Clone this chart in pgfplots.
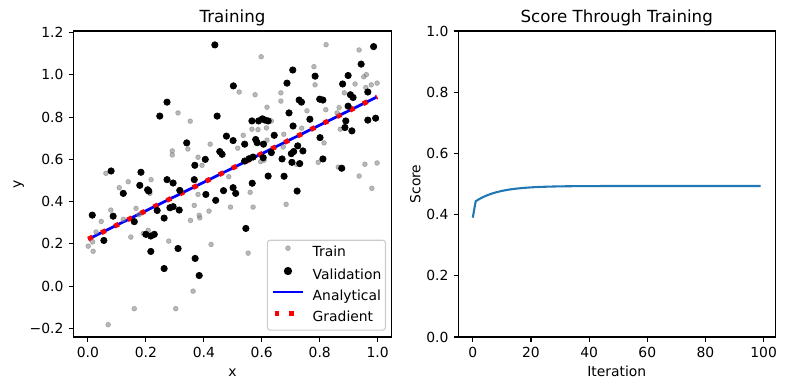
\documentclass[border=0pt]{standalone}
\usepackage{fontspec}
\setmainfont{DejaVu Sans}
\usepackage{pgfplots}
\pgfplotsset{compat=1.18}
\definecolor{trgray}{RGB}{128,128,128}
\definecolor{cC0}{HTML}{1F77B4}
\definecolor{legedge}{RGB}{204,204,204}
\pgfplotsset{mpl/.style={
  scale only axis,
  axis line style={line width=0.8pt, black},
  tick align=outside, major tick length=3.5pt,
  every tick/.style={black, line width=0.8pt},
  xtick pos=bottom, ytick pos=left,
  minor tick num=0, scaled ticks=false,
  tick label style={font=\fontsize{10}{12}\selectfont},
  xticklabel style={inner sep=0pt}, yticklabel style={inner sep=0pt},
  xticklabel shift=3.5pt, yticklabel shift=3.5pt,
  label style={font=\fontsize{10}{12}\selectfont},
  xlabel style={inner sep=0pt, text height=9.5pt, text depth=2.3pt}, ylabel style={inner sep=0pt},
  xlabel shift=4pt, ylabel shift=4pt,
  every axis title shift=0pt,
  title style={font=\fontsize{12}{14}\selectfont, at={(0.5,1)}, anchor=base, yshift=6pt, inner sep=0pt},
}}
\begin{document}
\begin{tikzpicture}
\path[use as bounding box] (-52.9pt,-38.2pt) rectangle (514.4pt,242.6pt);
\begin{axis}[mpl, at={(0pt,0pt)}, anchor=south west,
  width=229pt, height=220.3pt,
  xmin=-0.0499, xmax=1.048, ymin=-0.241, ymax=1.208,
  xtick={0,0.2,0.4,0.6,0.8,1}, xticklabels={0.0,0.2,0.4,0.6,0.8,1.0},
  ytick={-0.2,0,0.2,0.4,0.6,0.8,1.0,1.2},
  yticklabels={−0.2,0.0,0.2,0.4,0.6,0.8,1.0,1.2},
  xlabel={x}, ylabel={y}, title={Training},
  legend style={at={(1,0)}, anchor=south east, xshift=-4pt, yshift=4.5pt,
    draw=legedge, line width=0.8pt, rounded corners=2pt, fill=white, fill opacity=0.8, text opacity=1,
    draw opacity=1,
    font=\fontsize{10}{12}\selectfont, cells={anchor=west},
    inner xsep=3pt, inner ysep=3.8pt, row sep=5pt, column sep=6pt,
    nodes={inner sep=0pt, text height=7.5pt, text depth=2.5pt}},
]
\addplot[only marks, mark=*, mark size=1.7pt,
  mark options={draw=trgray, fill=trgray, draw opacity=0.55, fill opacity=0.55, line width=0.5pt},
  legend image code/.code={\draw[draw=trgray, fill=trgray, draw opacity=0.55, fill opacity=0.55, line width=0.5pt] (10.8pt,3.5pt) circle (1.7pt);}]
coordinates {
(0.311,0.820)(0.353,0.781)(0.291,0.640)(0.291,0.621)(0.345,0.649)(0.422,0.672)
(0.380,0.610)(0.394,0.572)(0.062,0.534)(0.139,0.494)(0.218,0.504)(0.822,1.143)
(0.598,1.086)(0.936,1.118)(0.780,1.039)(0.784,0.953)(0.522,0.919)(0.577,0.906)
(0.666,0.915)(0.666,0.876)(0.922,0.957)(0.952,0.991)(0.961,1.001)(0.959,0.940)
(0.978,0.953)(0.998,0.961)(0.885,0.915)(0.756,0.830)(0.821,0.835)(0.618,0.847)
(0.867,0.845)(0.860,0.820)(0.633,0.782)(0.566,0.743)(0.587,0.741)(0.616,0.749)
(0.738,0.748)(0.676,0.719)(0.536,0.714)(0.871,0.743)(0.886,0.746)(0.618,0.691)
(0.815,0.678)(0.517,0.653)(0.674,0.659)(0.596,0.589)(0.608,0.596)(0.795,0.586)
(0.864,0.563)(0.956,0.577)(0.998,0.583)(0.486,0.518)(0.936,0.521)(0.720,0.577)
(0.108,0.466)(0.214,0.439)(0.380,0.434)(0.079,0.360)(0.166,0.368)(0.046,0.306)
(0.122,0.316)(0.176,0.338)(0.028,0.256)(0.016,0.209)(0.001,0.189)(0.018,0.165)
(0.148,0.232)(0.191,0.249)(0.208,0.264)(0.279,0.213)(0.367,0.382)(0.354,0.311)
(0.386,0.323)(0.384,0.335)(0.418,0.355)(0.425,0.197)(0.363,-0.024)(0.160,-0.107)
(0.303,-0.107)(0.070,-0.183)(0.560,0.444)(0.492,0.374)(0.570,0.374)(0.684,0.387)
(0.553,0.156)(0.980,0.463)
};
\addlegendentry{Train}
\addplot[only marks, mark=*, mark size=2.3pt,
  mark options={draw=black, fill=black, line width=0.5pt},
  legend image code/.code={\fill[black, fill opacity=1] (10.8pt,3.5pt) circle (2.55pt);}]
coordinates {
(0.438,1.142)(0.273,0.871)(0.248,0.805)(0.446,0.805)(0.341,0.678)(0.478,0.710)
(0.455,0.637)(0.463,0.624)(0.405,0.600)(0.369,0.572)(0.080,0.545)(0.183,0.539)
(0.273,0.504)(0.367,0.504)(0.986,1.134)(0.943,1.051)(0.707,1.023)(0.784,0.994)
(0.898,0.997)(0.502,0.948)(0.687,0.961)(0.879,0.957)(0.966,0.919)(0.906,0.906)
(0.915,0.893)(0.729,0.881)(0.737,0.871)(0.800,0.885)(0.811,0.881)(0.898,0.852)
(0.694,0.820)(0.766,0.790)(0.566,0.782)(0.589,0.782)(0.602,0.792)(0.611,0.786)
(0.622,0.782)(0.708,0.758)(0.890,0.782)(0.887,0.751)(0.911,0.735)(0.966,0.786)
(0.993,0.795)(0.501,0.689)(0.541,0.672)(0.579,0.694)(0.584,0.679)(0.606,0.672)
(0.643,0.714)(0.801,0.703)(0.724,0.664)(0.710,0.637)(0.702,0.627)(0.742,0.640)
(0.633,0.632)(0.605,0.608)(0.541,0.592)(0.556,0.603)(0.570,0.611)(0.670,0.602)
(0.704,0.586)(0.811,0.602)(0.731,0.580)(0.876,0.558)(0.622,0.521)(0.677,0.520)
(0.294,0.488)(0.179,0.477)(0.206,0.456)(0.210,0.450)(0.122,0.439)(0.317,0.453)
(0.407,0.434)(0.441,0.406)(0.468,0.452)(0.015,0.336)(0.087,0.331)(0.239,0.358)
(0.283,0.371)(0.294,0.376)(0.315,0.360)(0.263,0.322)(0.160,0.305)(0.200,0.245)
(0.217,0.237)(0.229,0.245)(0.055,0.216)(0.311,0.178)(0.217,0.164)(0.370,0.131)
(0.263,0.083)(0.384,0.050)(0.501,0.466)(0.510,0.439)(0.567,0.487)(0.722,0.450)
(0.545,0.273)
};
\addlegendentry{Validation}
\addplot[blue, line width=2pt,
  legend image code/.code={\draw[blue, line width=2pt, draw opacity=1] (0pt,3.5pt) -- (21.6pt,3.5pt);}]
coordinates {(0.001,0.222)(0.998,0.896)};
\addlegendentry{Analytical}
\addplot[red, line width=3.5pt, dash pattern=on 3.5pt off 7pt,
  legend image code/.code={\draw[red, line width=3.5pt, draw opacity=1, dash pattern=on 3.5pt off 6.8pt] (1.15pt,3.5pt) -- (16.5pt,3.5pt);}]
coordinates {(0.001,0.222)(0.998,0.896)};
\addlegendentry{Gradient}
\end{axis}
\begin{axis}[mpl, at={(277.1pt,0pt)}, anchor=south west,
  width=228pt, height=220.3pt,
  xmin=-4.95, xmax=103.95, ymin=0, ymax=1,
  xtick={0,20,40,60,80,100}, xticklabels={0,20,40,60,80,100},
  ytick={0,0.2,0.4,0.6,0.8,1}, yticklabels={0.0,0.2,0.4,0.6,0.8,1.0},
  xlabel={Iteration}, ylabel={Score}, title={Score Through Training},
]
\addplot[cC0, line width=1.5pt] coordinates {
(0,0.390)(1,0.4435)(2,0.4494)(3,0.4546)(4,0.4591)(5,0.4632)(6,0.4667)(7,0.4699)
(8,0.4727)(9,0.4751)(10,0.4773)(11,0.4792)(12,0.4809)(13,0.4823)(14,0.4837)
(15,0.4848)(16,0.4858)(17,0.4867)(18,0.4875)(19,0.4882)(20,0.4889)(22,0.4899)
(24,0.4907)(26,0.4913)(28,0.4918)(30,0.4922)(33,0.4926)(36,0.4929)(40,0.4931)
(45,0.4933)(60,0.4935)(80,0.4935)(99,0.4935)
};
\end{axis}
\end{tikzpicture}
\end{document}
